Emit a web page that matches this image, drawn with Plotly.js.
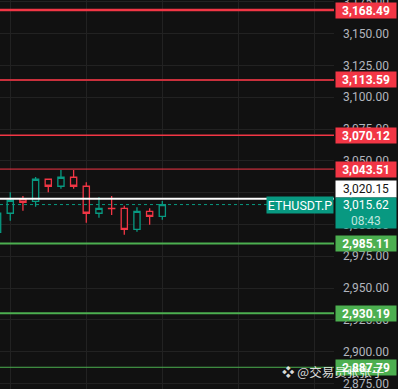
<!DOCTYPE html>
<html>
<head>
<meta charset="utf-8">
<script src="https://cdn.plot.ly/plotly-3.0.1.min.js"></script>
<style>
html,body{margin:0;padding:0;background:#111111;}
#chart{width:398px;height:389px;}
</style>
</head>
<body>
<div id="chart"></div>
<script>
// ---- data ----
const bars  = [0,1,2,3,4,5,6,7,8,9,10,11,12,13];
const open  = [2993.8,3008.8,3019.5,3018.2,3035.5,3030.0,3037.1,3030.0,3008.8,3012.7,3012.7,2996.2,3010.3,3006.4];
const high  = [3009.0,3025.3,3022.4,3037.3,3035.6,3042.8,3042.8,3033.1,3021.3,3022.4,3014.7,3013.5,3012.7,3018.4];
const low   = [2987.8,3003.0,3010.8,3014.0,3025.3,3028.1,3028.1,3001.4,3005.3,3007.4,2992.0,2994.3,2999.8,3003.7];
const close = [3008.8,3019.0,3017.4,3035.5,3030.0,3037.1,3030.0,3008.8,3012.7,3012.5,2996.2,3010.3,3006.4,3015.62];

const resistance = [3168.49, 3113.59, 3070.12, 3043.51];
const support    = [2985.11, 2930.19, 2887.79];
const markPrice  = 3020.15;
const lastPrice  = 3015.62;
const symbol     = "ETHUSDT.P";
const countdown  = "08:43";
const watermark  = "@交易员张张子";
const ticks = [2875,2900,2925,2950,2975,3000,3025,3050,3075,3100,3125,3150,3175];

// ---- styles ----
const BG = "#111111", GRID = "#222222", TEAL = "#089981", RED = "#f23645", GREEN = "#4caf50";
const resStyle = [{c:RED,w:2.5},{c:"#c9303c",w:2},{c:RED,w:1.5},{c:RED,w:1}];
const supStyle = [{c:GREEN,w:2},{c:GREEN,w:2},{c:GREEN,w:1}];
const FONT = "Roboto, 'DejaVu Sans', sans-serif";

const shapes = [];
const annotations = [];
function hline(y, color, width, dash){
  shapes.push({type:"line", xref:"paper", x0:0, x1:1, yref:"y", y0:y, y1:y,
    line:{color:color, width:width, dash:dash||"solid"}, layer:"above"});
}
function tag(y, text, bg, fg, opts){
  opts = opts || {};
  annotations.push(Object.assign({xref:"paper", x:1, xanchor:"left", xshift:1,
    yref:"y", y:y, yanchor:"middle", text:text, showarrow:false,
    bgcolor:bg, font:{color:fg, size:12, family:FONT, weight:"bold"},
    width:60, height:15, borderpad:0, align:"center", valign:"middle"}, opts));
}
const fmt = v => v.toLocaleString("en-US",{minimumFractionDigits:2, maximumFractionDigits:2});

resistance.forEach((v,i)=>{ hline(v, resStyle[i].c, resStyle[i].w); tag(v, fmt(v), RED, "#ffffff"); });
support.forEach((v,i)=>{ hline(v, supStyle[i].c, supStyle[i].w); tag(v, fmt(v), GREEN, "#ffffff"); });

hline(markPrice, "#ffffff", 2);
hline(lastPrice, TEAL, 1, "dot");

tag(markPrice, fmt(markPrice), "#ffffff", "#131313", {yshift:10, height:16, font:{color:"#131313", size:12, family:FONT}});
tag(lastPrice, fmt(lastPrice) + "<br><span style='color:#bfe6de'>" + countdown + "</span>", TEAL, "#ffffff",
  {yanchor:"top", yshift:8, height:30, font:{color:"#ffffff", size:12, family:FONT}});
annotations.push({xref:"paper", x:1, xanchor:"right", xshift:0, yref:"y", y:lastPrice, yanchor:"middle",
  text:symbol, showarrow:false, bgcolor:TEAL, font:{color:"#ffffff", size:12.5, family:FONT},
  width:66, height:16, borderpad:0, align:"center"});

annotations.push({xref:"paper", yref:"paper", x:1.155, y:0.046, xanchor:"right", yanchor:"middle",
  text:"❖ " + watermark, showarrow:false,
  font:{color:"rgba(255,255,255,0.85)", size:12.5, family:"'Noto Sans CJK SC', 'DejaVu Sans', sans-serif"}});

const trace = {
  type:"candlestick", x:bars, open:open, high:high, low:low, close:close,
  increasing:{line:{color:TEAL, width:1.3}, fillcolor:BG},
  decreasing:{line:{color:RED, width:1.3}, fillcolor:BG},
  whiskerwidth:0, hoverinfo:"skip"
};

const layout = {
  width:398, height:389,
  margin:{l:0, r:64, t:0, b:0, pad:0},
  paper_bgcolor:BG, plot_bgcolor:BG,
  showlegend:false,
  xaxis:{range:[0.19, 26.55], rangeslider:{visible:false}, showticklabels:false,
    tick0:1, dtick:6, gridcolor:GRID, gridwidth:1, zeroline:false, showline:false, ticks:""},
  yaxis:{side:"right", range:[2870.72, 3176.35], tickvals:ticks,
    ticktext:ticks.map(fmt), gridcolor:GRID, gridwidth:1, zeroline:false, showline:false,
    ticks:"", ticklabelstandoff:8, ticklabeloverflow:"allow",
    tickfont:{color:"#b2b5be", size:12, family:FONT}},
  shapes:shapes, annotations:annotations
};

Plotly.newPlot("chart", [trace], layout, {displayModeBar:false, staticPlot:true});
</script>
</body>
</html>
